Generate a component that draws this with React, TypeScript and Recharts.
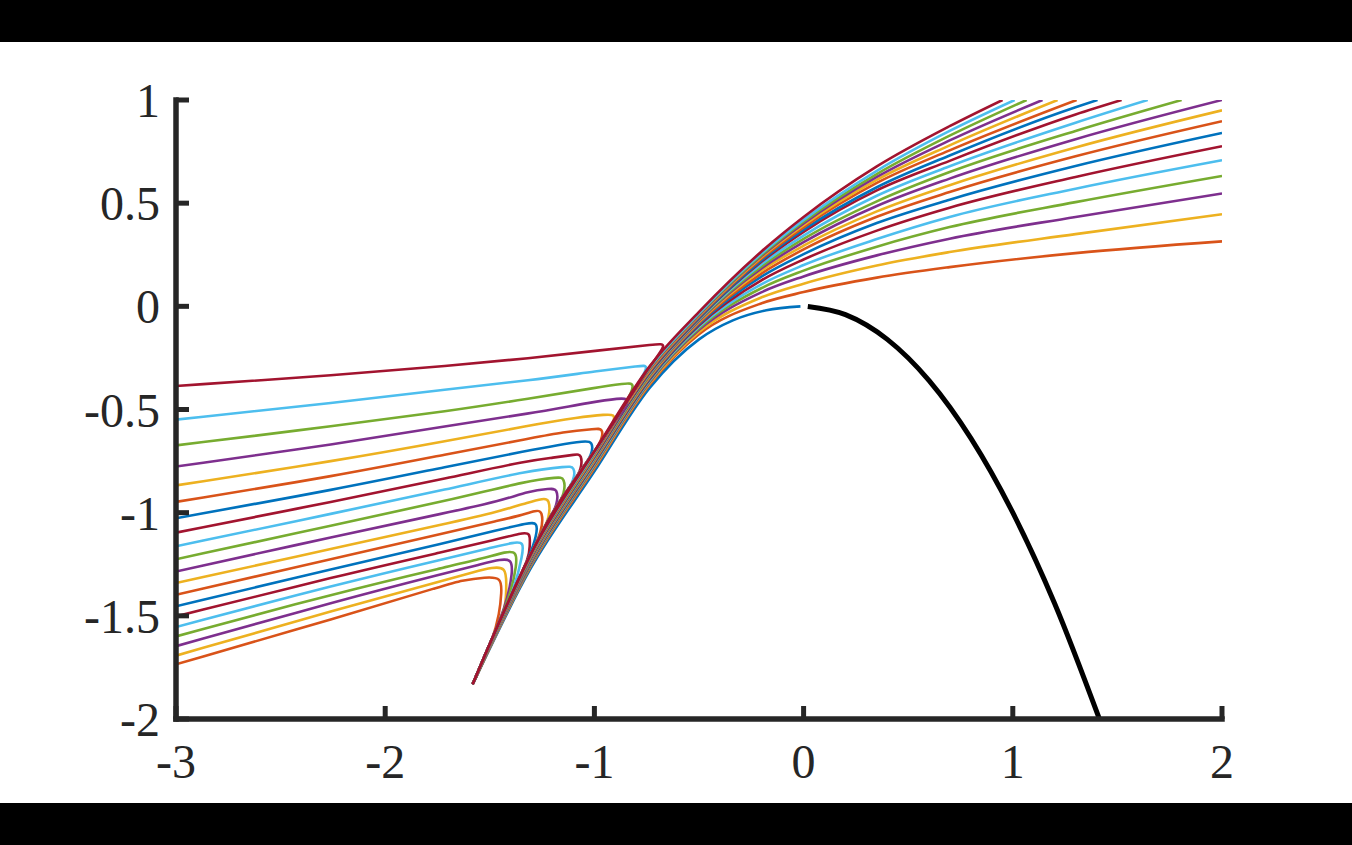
import { LineChart, Line, XAxis, YAxis } from 'recharts'

// MATLAB default colour order
const palette = ['#0072BD', '#D95319', '#EDB120', '#7E2F8E', '#77AC30', '#4DBEEE', '#A2142F']

const xTicks = [-3, -2, -1, 0, 1, 2]
const yTicks = [-2, -1.5, -1, -0.5, 0, 0.5, 1]

// cusp where all the curves meet, bottom left
const cusp = [-1.582, -1.832]

// left edge of the bundle, top to bottom (ends at the cusp)
const edge = [
  [-0.65, -0.184], [-0.736, -0.291], [-0.798, -0.388], [-0.846, -0.465],
  [-0.903, -0.557], [-0.961, -0.645], [-1.009, -0.717], [-1.061, -0.79],
  [-1.095, -0.843], [-1.142, -0.91], [-1.176, -0.963], [-1.214, -1.025],
  [-1.248, -1.09], [-1.31, -1.212], [-1.381, -1.366], [-1.453, -1.528],
  [-1.52, -1.682], [-1.582, -1.832],
]

// left branches, top curve (1) to bottom curve (20), drawn until they reach the edge
const t01 = [[-3, -0.386], [-2.218, -0.333], [-1.692, -0.288], [-1.31, -0.252], [-0.975, -0.213], [-0.7, -0.183], [-0.65, -0.179]]
const t02 = [[-3, -0.549], [-2.218, -0.465], [-1.692, -0.4], [-1.31, -0.359], [-0.975, -0.312], [-0.78, -0.289], [-0.736, -0.283]]
const t03 = [[-3, -0.674], [-2.218, -0.577], [-1.692, -0.507], [-1.31, -0.447], [-0.975, -0.391], [-0.86, -0.375], [-0.8, -0.368]]
const t04 = [[-3, -0.776], [-2.218, -0.666], [-1.692, -0.577], [-1.31, -0.52], [-1.0, -0.462], [-0.88, -0.446], [-0.841, -0.446], [-0.841, -0.48]]
const t05 = [[-3, -0.868], [-2.218, -0.746], [-1.692, -0.65], [-1.31, -0.577], [-1.071, -0.537], [-0.943, -0.524], [-0.905, -0.524]]
const t06 = [[-3, -0.948], [-2.218, -0.819], [-1.692, -0.714], [-1.31, -0.641], [-1.15, -0.609], [-0.991, -0.593], [-0.961, -0.592]]
const t07 = [[-3, -1.027], [-2.218, -0.884], [-1.692, -0.774], [-1.31, -0.698], [-1.174, -0.672], [-1.047, -0.653], [-1.009, -0.654]]
const t08 = [[-3, -1.097], [-2.218, -0.94], [-1.692, -0.83], [-1.31, -0.746], [-1.198, -0.734], [-1.087, -0.717], [-1.061, -0.717]]
const t09 = [[-3, -1.163], [-2.218, -0.997], [-1.692, -0.884], [-1.31, -0.795], [-1.131, -0.776], [-1.095, -0.776]]
const t10 = [[-3, -1.226], [-2.218, -1.053], [-1.692, -0.94], [-1.31, -0.843], [-1.176, -0.829], [-1.142, -0.829]]
const t11 = [[-3, -1.285], [-2.218, -1.11], [-1.692, -0.997], [-1.453, -0.944], [-1.31, -0.895], [-1.214, -0.884], [-1.176, -0.882]]
const t12 = [[-3, -1.341], [-2.218, -1.167], [-1.692, -1.05], [-1.453, -0.994], [-1.31, -0.948], [-1.246, -0.932], [-1.214, -0.932]]
const t13 = [[-3, -1.398], [-2.218, -1.215], [-1.692, -1.094], [-1.453, -1.037], [-1.358, -1.015], [-1.278, -0.989], [-1.248, -0.989]]
const t14 = [[-3, -1.454], [-2.218, -1.264], [-1.692, -1.142], [-1.469, -1.086], [-1.315, -1.049], [-1.272, -1.047], [-1.276, -1.11]]
const t15 = [[-3, -1.503], [-2.218, -1.304], [-1.692, -1.183], [-1.469, -1.131], [-1.349, -1.098], [-1.305, -1.095], [-1.31, -1.163]]
const t16 = [[-3, -1.554], [-2.218, -1.344], [-1.692, -1.218], [-1.501, -1.173], [-1.381, -1.142], [-1.338, -1.144], [-1.343, -1.202]]
const t17 = [[-3, -1.6], [-2.218, -1.385], [-1.692, -1.259], [-1.533, -1.222], [-1.42, -1.188], [-1.372, -1.188], [-1.372, -1.255], [-1.396, -1.377]]
const t18 = [[-3, -1.647], [-2.218, -1.425], [-1.692, -1.288], [-1.549, -1.252], [-1.445, -1.225], [-1.396, -1.226], [-1.391, -1.289], [-1.415, -1.415]]
const t19 = [[-3, -1.693], [-2.218, -1.466], [-1.692, -1.32], [-1.58, -1.289], [-1.485, -1.264], [-1.424, -1.265], [-1.42, -1.338], [-1.424, -1.459]]
const t20 = [[-3, -1.735], [-2.218, -1.506], [-1.692, -1.345], [-1.644, -1.33], [-1.517, -1.312], [-1.444, -1.314], [-1.444, -1.386], [-1.453, -1.488], [-1.487, -1.619], [-1.544, -1.74]]
// index in edge where each left branch joins it
const tJoin = [1, 2, 3, 4, 4, 5, 6, 7, 8, 9, 10, 11, 12, 13, 13, 14, 15, 15, 15, 17]

// right branches: y at each fanX column, from the cusp outwards
const fanX = [-1.31, -1.0, -0.736, -0.5, -0.2, 0, 0.35, 0.698, 1.3]
const r01 = [-1.212, -0.703, -0.291, -0.027, 0.267, 0.433, 0.678, 0.873]
const r02 = [-1.215, -0.707, -0.296, -0.034, 0.257, 0.419, 0.657, 0.85]
const r03 = [-1.218, -0.711, -0.3, -0.038, 0.25, 0.41, 0.641, 0.827]
const r04 = [-1.221, -0.715, -0.305, -0.042, 0.245, 0.402, 0.627, 0.804]
const r05 = [-1.224, -0.719, -0.309, -0.046, 0.239, 0.393, 0.613, 0.78]
const r06 = [-1.227, -0.723, -0.314, -0.05, 0.232, 0.383, 0.598, 0.756]
const r07 = [-1.23, -0.727, -0.318, -0.054, 0.224, 0.371, 0.577, 0.731, 0.965]
const r08 = [-1.233, -0.731, -0.323, -0.058, 0.217, 0.361, 0.562, 0.705, 0.93]
const r09 = [-1.236, -0.735, -0.327, -0.062, 0.205, 0.343, 0.536, 0.679, 0.89]
const r10 = [-1.239, -0.739, -0.332, -0.066, 0.195, 0.327, 0.509, 0.651, 0.85]
const r11 = [-1.242, -0.743, -0.336, -0.07, 0.185, 0.311, 0.486, 0.619, 0.81]
const r12 = [-1.245, -0.747, -0.341, -0.075, 0.174, 0.294, 0.46, 0.587, 0.77]
const r13 = [-1.248, -0.751, -0.345, -0.08, 0.16, 0.276, 0.434, 0.554, 0.727]
const r14 = [-1.251, -0.755, -0.35, -0.086, 0.145, 0.253, 0.404, 0.517, 0.68]
const r15 = [-1.254, -0.759, -0.354, -0.092, 0.127, 0.227, 0.367, 0.478, 0.627]
const r16 = [-1.257, -0.764, -0.359, -0.099, 0.108, 0.2, 0.326, 0.433, 0.57]
const r17 = [-1.26, -0.769, -0.363, -0.106, 0.089, 0.173, 0.289, 0.384, 0.505]
const r18 = [-1.263, -0.774, -0.368, -0.114, 0.069, 0.145, 0.247, 0.328, 0.433]
const r19 = [-1.266, -0.779, -0.374, -0.124, 0.044, 0.11, 0.198, 0.263, 0.35]
const r20 = [-1.27, -0.785, -0.38, -0.135, 0.015, 0.069, 0.139, 0.19, 0.258]
const rEndX = [0.951, 1.009, 1.066, 1.142, 1.214, 1.305, 1.405, 1.52, 1.645, 1.807, 2, 2, 2, 2, 2, 2, 2, 2, 2, 2]
const rEndY = [1, 1, 1, 1, 1, 1, 1, 1, 1, 1, 1, 0.95, 0.897, 0.84, 0.776, 0.708, 0.632, 0.547, 0.446, 0.315]

// blue curve ending at the origin, and the thick black one after it
const separatrix = [[-1.582, -1.832], [-1.31, -1.28], [-1.0, -0.8], [-0.736, -0.395], [-0.5, -0.16], [-0.338, -0.068], [-0.178, -0.019], [-0.015, 0]]
const parabola = [[0.02, -0.0004], [0.2, -0.04], [0.4, -0.16], [0.6, -0.36], [0.8, -0.64], [1.0, -1.0], [1.2, -1.44], [1.414, -2.0]]

const lefts = [t01, t02, t03, t04, t05, t06, t07, t08, t09, t10, t11, t12, t13, t14, t15, t16, t17, t18, t19, t20]
const rights = [r01, r02, r03, r04, r05, r06, r07, r08, r09, r10, r11, r12, r13, r14, r15, r16, r17, r18, r19, r20]

const pts = (pairs: number[][]) => pairs.map(([x, y]) => ({ x, y }))

const axisColor = '#262626'
const tickFont = { fontSize: 48, fontFamily: '"Liberation Serif", "Times New Roman", serif', fill: axisColor }
const lineW = 2.6

export default function App() {
  // curve k (1 = top) is MATLAB series 21 - k, series 0 is the blue separatrix
  const curves = lefts.map((t, i) => {
    const left = pts(t.concat(edge.slice(tJoin[i])))
    const ys = rights[i]
    const right = pts([cusp, ...ys.map((y, j) => [fanX[j], y]), [rEndX[i], rEndY[i]]])
    return { left, right, color: palette[(20 - i) % 7] }
  }).reverse()

  return (
    <div style={{ position: 'fixed', left: 0, top: 0, width: 1352, height: 845, background: '#000' }}>
      <div style={{ position: 'absolute', left: 0, top: 42, width: 1352, height: 761, background: '#fff' }} />
      <div style={{ position: 'absolute', left: 0, top: 0 }}>
        <LineChart width={1352} height={845} margin={{ top: 100, right: 130, bottom: 125, left: 175 }}>
          <XAxis
            type="number"
            dataKey="x"
            domain={[-3, 2]}
            ticks={xTicks}
            interval={0}
            allowDataOverflow
            height={1}
            tick={tickFont}
            tickSize={-13}
            tickMargin={38}
            tickLine={{ stroke: axisColor, strokeWidth: 5 }}
            axisLine={{ stroke: axisColor, strokeWidth: 5.5, strokeLinecap: 'square' }}
          />
          <YAxis
            type="number"
            domain={[-2, 1]}
            ticks={yTicks}
            interval={0}
            allowDataOverflow
            width={1}
            tick={tickFont}
            tickSize={-13}
            tickMargin={29}
            tickLine={{ stroke: axisColor, strokeWidth: 5 }}
            axisLine={{ stroke: axisColor, strokeWidth: 5.5, strokeLinecap: 'square' }}
          />
          <Line
            data={pts(separatrix)}
            dataKey="y"
            type="monotone"
            stroke={palette[0]}
            strokeWidth={lineW}
            dot={false}
            activeDot={false}
            isAnimationActive={false}
          />
          {curves.map((c, i) => [
            <Line
              key={`l${i}`}
              data={c.left}
              dataKey="y"
              type="basis"
              stroke={c.color}
              strokeWidth={lineW}
              dot={false}
              activeDot={false}
              isAnimationActive={false}
            />,
            <Line
              key={`r${i}`}
              data={c.right}
              dataKey="y"
              type="monotone"
              stroke={c.color}
              strokeWidth={lineW}
              dot={false}
              activeDot={false}
              isAnimationActive={false}
            />,
          ])}
          <Line
            data={pts(parabola)}
            dataKey="y"
            type="monotone"
            stroke="#000"
            strokeWidth={5}
            dot={false}
            activeDot={false}
            isAnimationActive={false}
          />
        </LineChart>
      </div>
    </div>
  )
}
